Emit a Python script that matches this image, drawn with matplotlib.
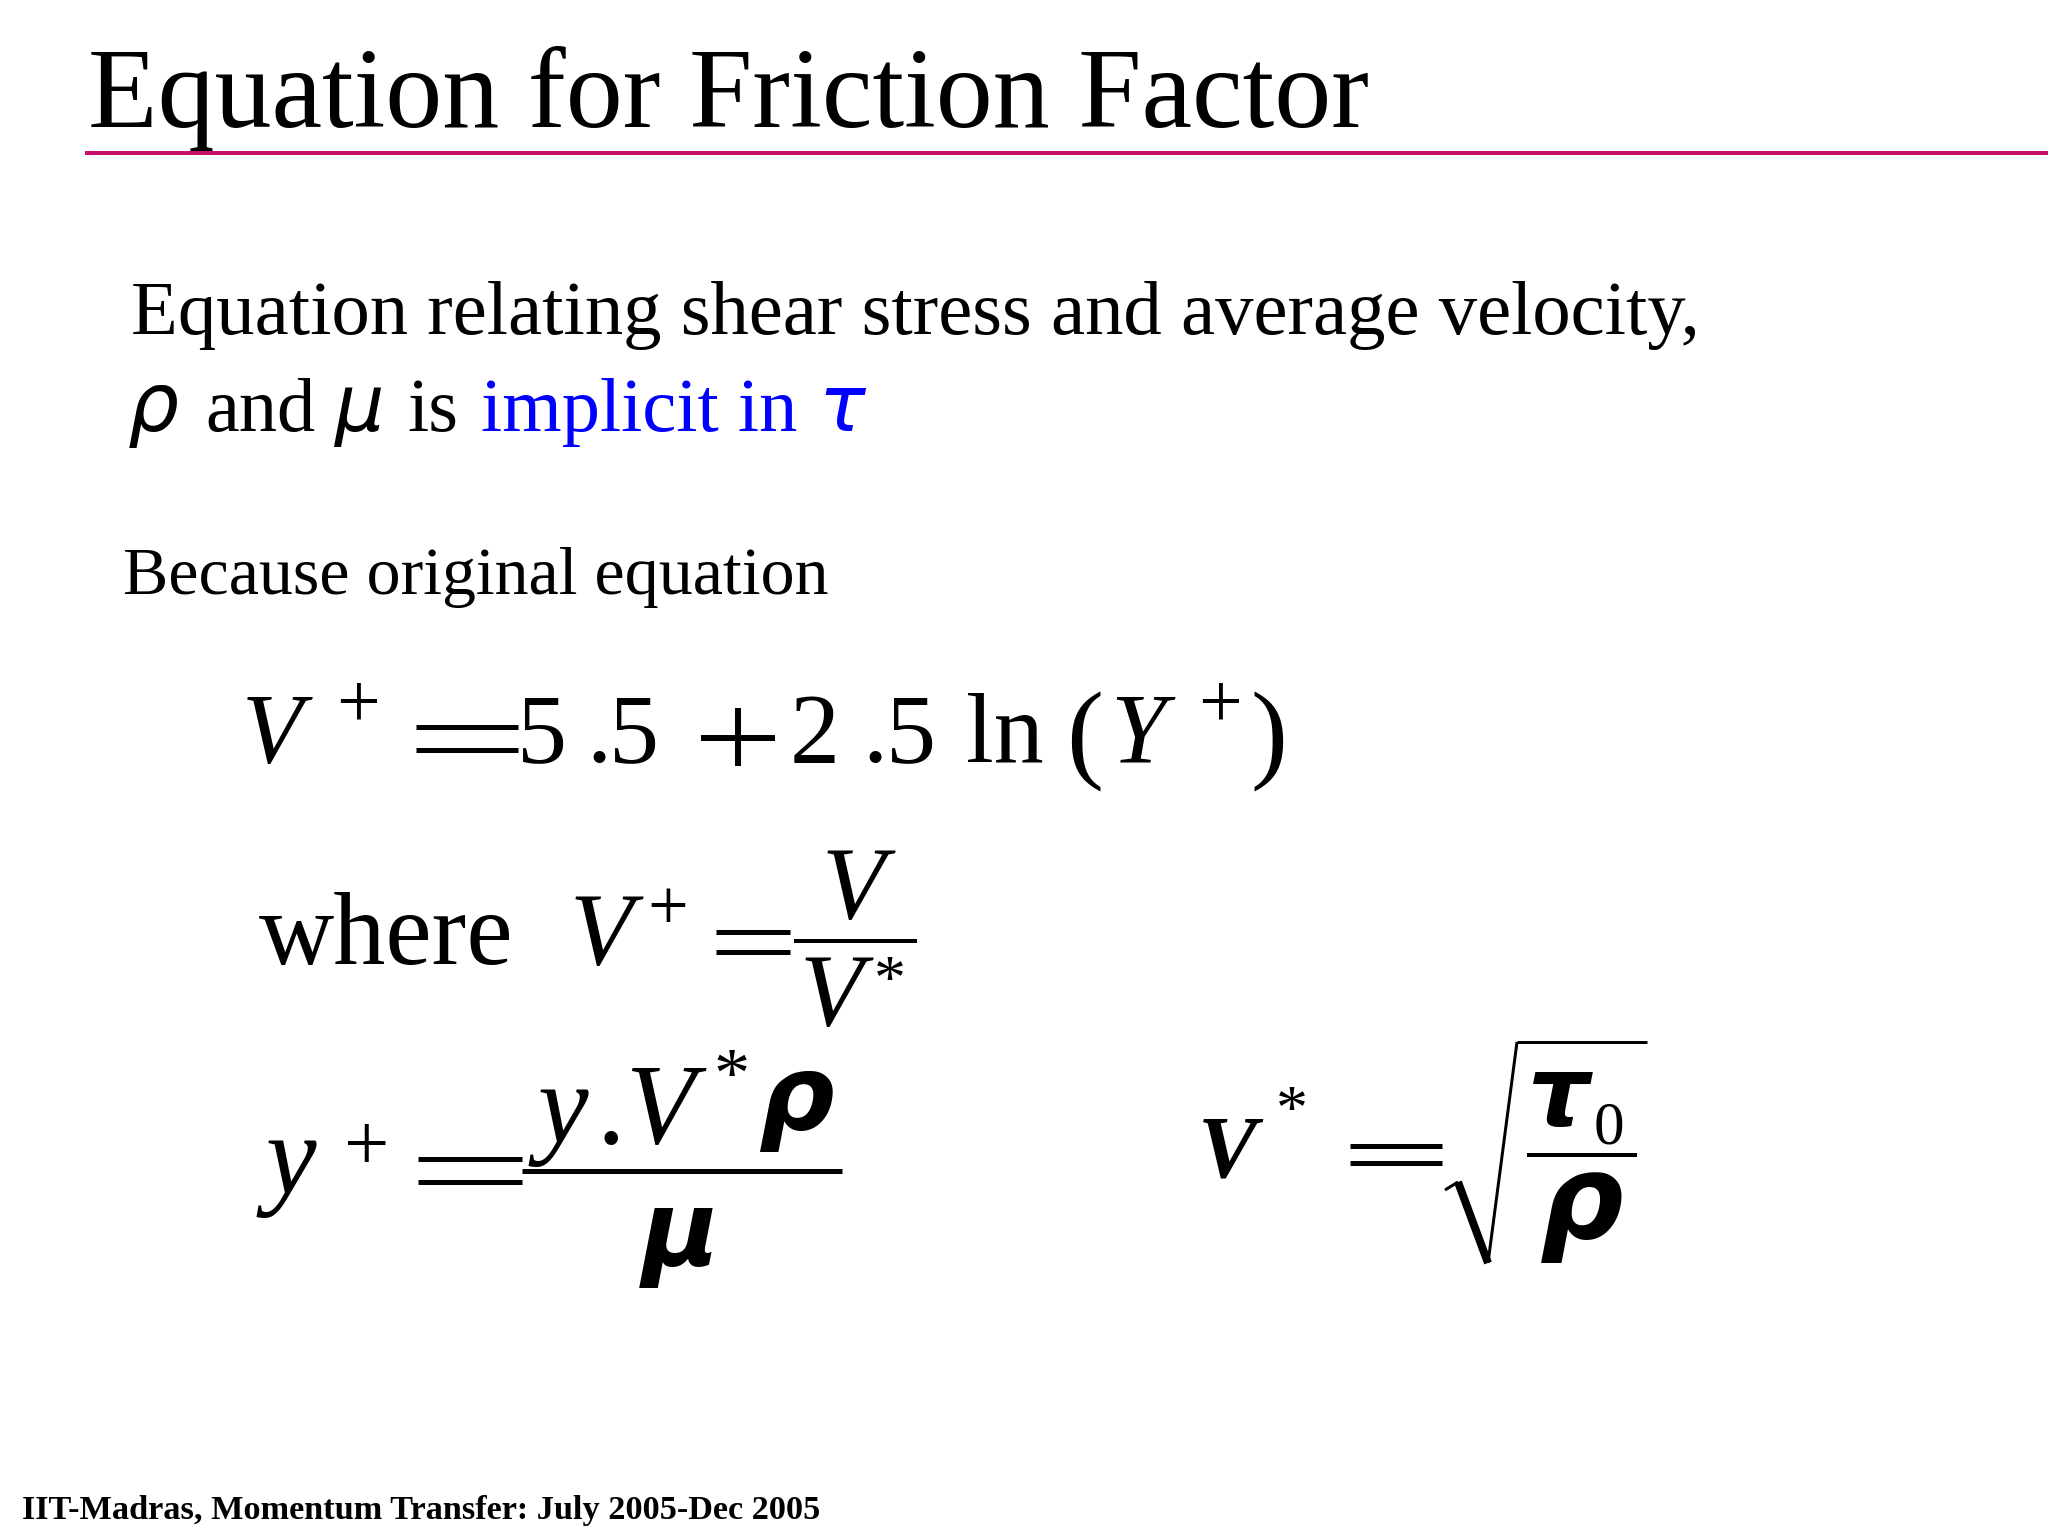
import matplotlib
matplotlib.use('Agg')
import matplotlib.pyplot as plt
from matplotlib.lines import Line2D

W, H = 2048, 1536

# slide texts
title = 'Equation for Friction Factor'
body_line1 = 'Equation relating shear stress and average velocity,'
body_line2 = ['\u03c1', 'and', '\u03bc', 'is', 'implicit in', '\u03c4']
body_line3 = 'Because original equation'
footer = 'IIT-Madras, Momentum Transfer: July 2005-Dec 2005'

# equation pieces
eq1_parts = ['V', '+', '5', '.', '5', '2', '.', '5', 'ln', '(', 'Y', '+', ')']
eq2_parts = ['where', 'V', '+', 'V', 'V', '*']
eq3_parts = ['y', '+', 'y', '.', 'V', '*', '\u03c1', '\u03bc']
eq4_parts = ['V', '*', '\u03c4', '0', '\u03c1']

SERIF = 'Liberation Serif'
GREEK = 'DejaVu Sans'
line_color = '#C8106A'
blue = '#0000FF'

fig = plt.figure(figsize=(W / 100, H / 100), dpi=100)
fig.patch.set_facecolor('white')


def put(x, y, s, size, ha='left', va='baseline', **kw):
    kw.setdefault('family', SERIF)
    return fig.text(x / W, 1 - y / H, s, fontsize=size, ha=ha, va=va, **kw)


def rule(x0, x1, y0, y1, lw, color='black'):
    fig.add_artist(Line2D([x0 / W, x1 / W], [1 - y0 / H, 1 - y1 / H],
                          transform=fig.transFigure, linewidth=lw * 0.72,
                          color=color, solid_capstyle='butt'))


def equals(x0, x1, ya, yb, lw=5):
    rule(x0, x1, ya, ya, lw)
    rule(x0, x1, yb, yb, lw)


# title and rule
put(88, 127, title, 82)
rule(85, 2048, 153, 153, 4, line_color)

# body text
put(131, 334, body_line1, 55.3)
put(128, 431, body_line2[0], 58, family=GREEK, style='oblique')
put(205, 431, body_line2[1], 55)
put(334, 431, body_line2[2], 56, family=GREEK, style='oblique')
put(407, 431, body_line2[3], 55)
put(481, 431, body_line2[4], 55, color=blue)
put(818, 431, body_line2[5], 56, family=GREEK, style='oblique', color=blue)
put(123, 594, body_line3, 49)

# V+ = 5.5 + 2.5 ln(Y+)
fs1 = 72
b1 = 762
put(242, b1, eq1_parts[0], fs1, style='italic')
put(358, 708, eq1_parts[1], 56, ha='center', va='center')
equals(416, 518, 727, 750, 5)
put(517, b1, eq1_parts[2], fs1)
put(586, b1, eq1_parts[3], fs1)
put(609, b1, eq1_parts[4], fs1)
rule(701, 775, 738, 738, 6)
rule(738, 738, 708, 766, 6)
put(790, b1, eq1_parts[5], fs1)
put(862, b1, eq1_parts[6], fs1)
put(886, b1, eq1_parts[7], fs1)
put(966, b1, eq1_parts[8], fs1)
put(1066, b1 + 6, eq1_parts[9], 80)
put(1110, b1, eq1_parts[10], fs1, style='italic')
put(1220, 708, eq1_parts[11], 56, ha='center', va='center')
put(1250, b1 + 6, eq1_parts[12], 80)

# where V+ = V / V*
fs2 = 75
b2 = 964
put(259, b2, eq2_parts[0], fs2)
put(570, b2, eq2_parts[1], fs2, style='italic')
put(668, 912, eq2_parts[2], 52, ha='center', va='center')
equals(716, 790, 932, 952, 5)
rule(794, 917, 941, 941, 4)
put(822, 918, eq2_parts[3], fs2, style='italic')
put(800, 1025, eq2_parts[4], fs2, style='italic')
put(890, 984, eq2_parts[5], 46, ha='center', va='center')

# y+ = y.V* rho / mu
fs3 = 82
b3n = 1143
put(266, 1194, eq3_parts[0], fs3, style='italic')
put(367, 1150, eq3_parts[1], 58, ha='center', va='center')
equals(418, 522, 1159, 1182, 5)
rule(522, 842, 1171, 1171, 5)
put(538, b3n, eq3_parts[2], fs3, style='italic')
put(596, b3n, eq3_parts[3], fs3)
put(625, b3n, eq3_parts[4], fs3, style='italic')
put(732, 1080, eq3_parts[5], 52, ha='center', va='center')
put(758, 1130, eq3_parts[6], 76, family=GREEK, style='oblique', weight='bold')
put(642, 1266, eq3_parts[7], 76, family=GREEK, style='oblique', weight='bold')

# V* = sqrt(tau0 / rho)
fs4 = 64
put(1198, 1177, eq4_parts[0], fs4, style='italic', weight='bold')
put(1292, 1114, eq4_parts[1], 46, ha='center', va='center')
equals(1350, 1442, 1146, 1163, 5)
# radical sign
rule(1445, 1458, 1190, 1182, 3)
rule(1458, 1488, 1182, 1263, 8)
rule(1488, 1517, 1263, 1042, 3)
rule(1517, 1647, 1042, 1042, 3)
put(1528, 1126, eq4_parts[2], 70, family=GREEK, style='oblique', weight='bold')
put(1594, 1144, eq4_parts[3], 44)
rule(1527, 1637, 1155, 1155, 4)
put(1540, 1238, eq4_parts[4], 84, family=GREEK, style='oblique', weight='bold')

# footer
put(22, 1519, footer, 24.7, weight='bold')

fig.savefig('out.png', dpi=100, facecolor='white')
